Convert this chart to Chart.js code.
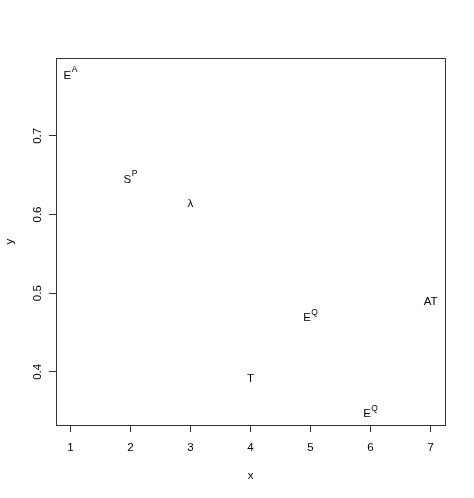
<!DOCTYPE html>
<html>
<head>
<meta charset="utf-8">
<script src="https://cdn.jsdelivr.net/npm/chart.js@4/dist/chart.umd.min.js"></script>
<style>
  html, body { margin: 0; padding: 0; background: #fff; }
  #wrap { width: 474px; height: 498px; }
</style>
</head>
<body>
<div id="wrap"><canvas id="plot"></canvas></div>
<script>
// point positions and their labels (base text + superscript)
const xValues = [1, 2, 3, 4, 5, 6, 7];
const yValues = [0.779, 0.647, 0.614, 0.392, 0.471, 0.349, 0.490];
const baseLabels = ['E', 'S', 'λ', 'T', 'E', 'E', 'AT'];
const supLabels = ['A', 'P', '', '', 'Q', 'Q', ''];

// axis ticks
const xTicks = [1, 2, 3, 4, 5, 6, 7];
const yTicks = [0.4, 0.5, 0.6, 0.7];

const FONT = '"Liberation Sans", Arial, Helvetica, sans-serif';
const SIZE = 11.5;

// draws the box around the plot region
const boxPlugin = {
    id: 'box',
    afterDraw(chart) {
        const a = chart.chartArea;
        const ctx = chart.ctx;
        ctx.save();
        ctx.strokeStyle = '#333';
        ctx.lineWidth = 1;
        ctx.strokeRect(Math.round(a.left) + 0.5, Math.round(a.top) + 0.5,
            Math.round(a.right - a.left), Math.round(a.bottom - a.top));
        ctx.restore();
    }
};

// writes each label at its data point, with a raised superscript
const textLabels = {
    id: 'textLabels',
    afterDatasetsDraw(chart) {
        const ctx = chart.ctx;
        const xs = chart.scales.x;
        const ys = chart.scales.y;
        ctx.save();
        ctx.fillStyle = '#000';
        ctx.textBaseline = 'middle';
        ctx.textAlign = 'left';
        xValues.forEach((xv, i) => {
            const px = xs.getPixelForValue(xv);
            const py = ys.getPixelForValue(yValues[i]);
            const base = baseLabels[i];
            const sup = supLabels[i];
            ctx.font = SIZE + 'px ' + FONT;
            const wb = ctx.measureText(base).width;
            ctx.font = '8.5px ' + FONT;
            const ws = sup ? ctx.measureText(sup).width + 0.5 : 0;
            const x0 = px - (wb + ws) / 2;
            ctx.font = SIZE + 'px ' + FONT;
            ctx.fillText(base, x0, py + (sup ? 2 : 0.5));
            if (sup) {
                ctx.font = '8.5px ' + FONT;
                ctx.fillText(sup, x0 + wb + 0.5, py - 3.5);
            }
        });
        ctx.restore();
    }
};

new Chart(document.getElementById('plot'), {
    type: 'scatter',
    data: {
        datasets: [{
            data: xValues.map((x, i) => ({ x: x, y: yValues[i] })),
            pointRadius: 0,
            pointHoverRadius: 0
        }]
    },
    options: {
        responsive: true,
        maintainAspectRatio: false,
        animation: false,
        events: [],
        layout: { padding: { left: 0, top: 58, right: 29, bottom: 0 } },
        plugins: { legend: { display: false }, tooltip: { enabled: false } },
        scales: {
            x: {
                type: 'linear',
                min: 0.76,
                max: 7.24,
                afterBuildTicks: s => { s.ticks = xTicks.map(v => ({ value: v })); },
                afterFit: s => { s.height = 73; },
                border: { display: false },
                grid: { drawOnChartArea: false, drawTicks: true, tickLength: 7, color: '#333' },
                ticks: { color: '#000', padding: 9, maxRotation: 0, font: { family: FONT, size: SIZE },
                    callback: v => String(v) },
                title: { display: true, text: 'x', color: '#000', font: { family: FONT, size: SIZE },
                    padding: { top: 0, bottom: 15 } }
            },
            y: {
                type: 'linear',
                min: 0.3324,
                max: 0.7989,
                afterBuildTicks: s => { s.ticks = yTicks.map(v => ({ value: v })); },
                afterFit: s => { s.width = 56; },
                border: { display: false },
                grid: { drawOnChartArea: false, drawTicks: true, tickLength: 7, color: '#333' },
                ticks: { color: '#000', padding: 3, minRotation: 90, maxRotation: 90, crossAlign: 'center',
                    font: { family: FONT, size: SIZE }, callback: v => String(v) },
                title: { display: true, text: 'y', color: '#000', font: { family: FONT, size: SIZE },
                    padding: { top: 3, bottom: 0 } }
            }
        }
    },
    plugins: [boxPlugin, textLabels]
});
</script>
</body>
</html>
